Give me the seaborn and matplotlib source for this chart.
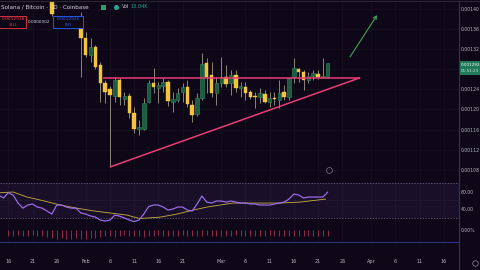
import matplotlib
matplotlib.use("Agg")
import matplotlib.pyplot as plt
import seaborn as sns
import numpy as np
import pandas as pd
from matplotlib.patches import Rectangle
from matplotlib.lines import Line2D

# ---------------- data (day index: 0 = Jan 1) ----------------
candle_day = [24] + list(range(30, 82))
open_ = [0.0014500,
         0.0013821, 0.0013423, 0.0013085, 0.0013244, 0.0012886, 0.0012527, 0.0012408, 0.0012269,
         0.0012587, 0.0012209, 0.0012269, 0.0011930, 0.0011612, 0.0011612, 0.0012149, 0.0012527,
         0.0012428, 0.0012468, 0.0012547, 0.0012149, 0.0012189, 0.0012348, 0.0012448, 0.0012090,
         0.0011910, 0.0012229, 0.0012925, 0.0012687, 0.0012328, 0.0012527, 0.0012647, 0.0012527,
         0.0012687, 0.0012428, 0.0012448, 0.0012348, 0.0012269, 0.0012249, 0.0012308, 0.0012149,
         0.0012229, 0.0012189, 0.0012348, 0.0012249, 0.0012647, 0.0012806, 0.0012746, 0.0012587,
         0.0012667, 0.0012707, 0.0012647, 0.0012647]
high = [0.0014600,
        0.0013940, 0.0013542, 0.0013423, 0.0013284, 0.0012945, 0.0012587, 0.0012468, 0.0012647,
        0.0012627, 0.0012348, 0.0012328, 0.0012050, 0.0011791, 0.0012229, 0.0012587, 0.0012826,
        0.0012547, 0.0012627, 0.0012587, 0.0012348, 0.0012428, 0.0012527, 0.0012587, 0.0012189,
        0.0012328, 0.0013124, 0.0013025, 0.0012945, 0.0012647, 0.0013045, 0.0012886, 0.0012786,
        0.0012786, 0.0012547, 0.0012547, 0.0012388, 0.0012348, 0.0012428, 0.0012388, 0.0012348,
        0.0012348, 0.0012587, 0.0012488, 0.0012647, 0.0013025, 0.0012826, 0.0012786, 0.0012746,
        0.0012786, 0.0012786, 0.0013025, 0.0012925]
low = [0.0013861,
       0.0012647, 0.0013045, 0.0012945, 0.0012806, 0.0012149, 0.0012129, 0.0010856, 0.0012149,
       0.0012090, 0.0012090, 0.0011831, 0.0011532, 0.0011493, 0.0011592, 0.0012129, 0.0012328,
       0.0012129, 0.0012348, 0.0012070, 0.0011950, 0.0012149, 0.0012149, 0.0012050, 0.0011751,
       0.0011871, 0.0012189, 0.0012328, 0.0012249, 0.0012090, 0.0012448, 0.0012448, 0.0012289,
       0.0012348, 0.0012249, 0.0012189, 0.0012209, 0.0012030, 0.0012129, 0.0012129, 0.0012050,
       0.0012090, 0.0012030, 0.0012189, 0.0012189, 0.0012527, 0.0012547, 0.0012388, 0.0012527,
       0.0012587, 0.0012607, 0.0012627, 0.0012627]
close = [0.0013900,
         0.0013423, 0.0013085, 0.0013244, 0.0012846, 0.0012527, 0.0012348, 0.0012289, 0.0012587,
         0.0012249, 0.0012269, 0.0011930, 0.0011612, 0.0011652, 0.0012129, 0.0012527, 0.0012448,
         0.0012488, 0.0012547, 0.0012169, 0.0012209, 0.0012328, 0.0012448, 0.0012109, 0.0011890,
         0.0012229, 0.0012905, 0.0012647, 0.0012328, 0.0012527, 0.0012647, 0.0012507, 0.0012687,
         0.0012428, 0.0012468, 0.0012328, 0.0012249, 0.0012253, 0.0012328, 0.0012149, 0.0012229,
         0.0012209, 0.0012328, 0.0012249, 0.0012627, 0.0012826, 0.0012746, 0.0012587, 0.0012667,
         0.0012726, 0.0012647, 0.0012657, 0.0012918]

rsi_start_day = 13
rsi = [56.0, 52.7, 58.8, 56.0, 47.0, 41.0, 44.6, 45.8, 42.3, 41.0,
       37.7, 34.2, 44.6, 44.6, 42.3, 41.0, 41.0, 35.4, 34.2, 32.0,
       30.7, 27.3, 26.1, 27.3, 33.0, 31.8, 29.6, 27.3, 25.5, 27.3,
       34.2, 42.9, 44.6, 44.6, 42.3, 38.8, 40.0, 42.3, 42.3, 38.8,
       37.7, 45.8, 55.0, 48.0, 46.9, 49.2, 49.2, 48.0, 49.2, 48.0,
       46.9, 46.9, 45.8, 45.8, 44.6, 44.6, 44.6, 45.8, 46.9, 48.0,
       51.5, 57.3, 56.1, 52.7, 53.8, 53.8, 53.8, 53.8, 59.6]
rsi_ma_day = [13.3, 16.0, 18.9, 22.2, 25.7, 29.2, 32.5, 36.0, 39.5, 42.2, 43.7,
              46.4, 49.9, 53.2, 56.1, 58.8, 61.4, 67.0, 71.2, 75.3, 80.6]
rsi_ma = [58.8, 59.6, 53.8, 49.6, 44.6, 41.0, 37.9, 35.4, 33.0, 29.0, 29.6,
          30.7, 34.2, 38.8, 42.3, 44.6, 46.9, 46.9, 46.9, 48.0, 51.5]

osc_start_day = 15
osc = [-0.006, -0.006, -0.005, -0.006, -0.006, -0.005, -0.006, -0.006, -0.007,
       -0.008, -0.009, -0.008, -0.009, -0.009, -0.008, -0.009, -0.009, -0.008, -0.008, -0.007,
       -0.006, -0.006, -0.007, -0.006, -0.005, -0.006, -0.006, -0.006, -0.007, -0.006,
       -0.006, -0.005, -0.006, -0.006, -0.006, -0.006, -0.005, -0.006, -0.006, -0.006,
       -0.006, -0.005, -0.006, -0.006, -0.006, -0.006, -0.006, -0.005, -0.006, -0.006,
       -0.006, -0.006, -0.006, -0.006, -0.005, -0.006, -0.006, -0.006, -0.006, -0.006,
       -0.006, -0.006, -0.006, -0.006, -0.006, -0.006, -0.006]

tick_days = [15, 20, 25, 31, 36, 41, 46, 51, 59, 64, 69, 74, 79, 84, 90, 95, 100, 105]
tick_labels = ["16", "21", "26", "Feb", "6", "11", "16", "21", "Mar",
               "6", "11", "16", "21", "26", "Apr", "6", "11", "16"]
price_ticks = [0.00140, 0.00136, 0.00132, 0.00128, 0.00124, 0.00120, 0.00116, 0.00112, 0.00108]
rsi_ticks = [60, 40]

resist_days = [34.6, 87.7]
resist_level = 0.0012633
support_days = [36.0, 87.7]
support_prices = [0.0010856, 0.0012633]
arrow_days = [85.6, 91.2]
arrow_prices = [0.0013045, 0.0013881]

title = "Solana / Bitcoin · 1D · Coinbase"
vol_text = "13.04K"
sell_price = "0.0012918"
buy_price = "0.0012920"
spread = "0.0000002"
countdown = "01:51:23"

# ---------------- style ----------------
BG = "#0e0717"
SEP = "#2b3180"
TXT = "#b2b5be"
GRID = "#19121f"
PINK = "#ec3b77"
YEL = "#f2c440"
GRN_F = "#1d5c40"
GRN_E = "#2e8d5e"
WICK = "#a09a88"

sns.set_theme(style="dark")
plt.rcParams["font.family"] = ["DejaVu Sans"]

W, H = 480, 270
def fx(p):
    return p / W
def fy(p):
    return 1 - p / H

fig = plt.figure(figsize=(4.8, 2.7), dpi=100)
fig.patch.set_facecolor(BG)
XL = (13.285, 108.12)
AXR = 459
ax = fig.add_axes([0, fy(175), fx(AXR), (175 - 2) / H])
ax_r = fig.add_axes([0, fy(222), fx(AXR), 47 / H])
ax_o = fig.add_axes([0, fy(242), fx(AXR), 20 / H])

for a in (ax, ax_r, ax_o):
    a.set_facecolor(BG)
    a.set_xlim(*XL)
    for s in a.spines.values():
        s.set_visible(False)
    for side in ("bottom", "right"):
        a.spines[side].set_visible(True)
        a.spines[side].set_color(SEP)
        a.spines[side].set_linewidth(0.8)
    a.yaxis.tick_right()
    a.tick_params(axis="y", length=0, labelsize=3.3, labelcolor=TXT, pad=1.2)
    a.tick_params(axis="x", length=0)
    a.grid(False)
    a.set_xticks(tick_days)
    for d in tick_days:
        a.axvline(d, color=GRID, lw=0.5, zorder=0)

# ---------------- main price pane ----------------
ax.set_ylim(0.00106965, 0.00141392)
ax.set_yticks(price_ticks)
ax.set_yticklabels([f"{v:.5f}" for v in price_ticks])
ax.tick_params(axis="x", labelbottom=False)
for v in price_ticks:
    ax.axhline(v, color=GRID, lw=0.5, zorder=0)

df = pd.DataFrame(dict(day=candle_day, open=open_, high=high, low=low, close=close))
up = df["close"] >= df["open"]
ax.vlines(df["day"], df["low"], df["high"], color=WICK, lw=0.6, zorder=2)
ax.bar(df["day"][up], (df["close"] - df["open"])[up], bottom=df["open"][up], width=0.72,
       color=GRN_F, edgecolor=GRN_E, linewidth=0.4, zorder=3)
ax.bar(df["day"][~up], (df["close"] - df["open"])[~up], bottom=df["open"][~up], width=0.72,
       color=YEL, edgecolor=YEL, linewidth=0.3, zorder=3)

ax.plot(resist_days, [resist_level, resist_level], color=PINK, lw=1.1, zorder=4,
        solid_capstyle="butt")
ax.plot(support_days, support_prices, color=PINK, lw=1.1, zorder=4, solid_capstyle="butt")
ax.annotate("", xy=(arrow_days[1], arrow_prices[1]), xytext=(arrow_days[0], arrow_prices[0]),
            arrowprops=dict(arrowstyle="->", color="#43a35a", lw=0.8, mutation_scale=6,
                            shrinkA=0, shrinkB=0), zorder=5)

# ---------------- RSI pane ----------------
ax_r.set_ylim(25.03, 79.24)
ax_r.axhspan(30, 70, color="#7e57c2", alpha=0.1, lw=0)
ax_r.axhline(70, color="#6e6880", lw=0.5, ls=(0, (2, 2)))
ax_r.axhline(30, color="#6e6880", lw=0.5, ls=(0, (2, 2)))
ax_r.axhline(50, color="#6e6880", lw=0.4, ls=(0, (1, 2)), alpha=0.5)
rsi_days = list(range(rsi_start_day, rsi_start_day + len(rsi)))
sns.lineplot(x=rsi_ma_day, y=rsi_ma, ax=ax_r, color="#c8b040", linewidth=0.6, zorder=3)
sns.lineplot(x=rsi_days, y=rsi, ax=ax_r, color="#9d6ff0", linewidth=0.85, zorder=4)
ax_r.set_xlim(*XL)
ax_r.set_yticks(rsi_ticks)
ax_r.set_yticklabels([f"{v:.2f}" for v in rsi_ticks])
ax_r.tick_params(axis="x", labelbottom=False)
ax_r.set_xlabel("")
ax_r.set_ylabel("")

# ---------------- oscillator pane ----------------
osc_days = list(range(osc_start_day, osc_start_day + len(osc)))
ax_o.set_ylim(-0.0125, 0.0075)
ax_o.vlines(osc_days, 0, osc, color="#a8324f", lw=0.6)
ax_o.set_yticks([0])
ax_o.set_yticklabels(["0.00%"])
ax_o.set_xticklabels(tick_labels)
ax_o.tick_params(axis="x", labelsize=3.5, labelcolor=TXT, pad=12.2)

# ---------------- frame lines ----------------
fig.add_artist(Line2D([fx(AXR), fx(AXR)], [fy(242), 0], color=SEP, lw=0.8))
fig.add_artist(Line2D([0, 1], [fy(1), fy(1)], color="#2a2733", lw=0.8))

# ---------------- current price label ----------------
fig.add_artist(Rectangle((fx(459.5), fy(75)), fx(22), 14 / H, transform=fig.transFigure,
                         facecolor="#1e7a58", edgecolor="none", zorder=5))
fig.text(fx(460.5), fy(64.5), f"{close[-1]:.6f}", color="white", fontsize=3.0,
         va="center", ha="left", zorder=6)
fig.text(fx(461), fy(70.8), countdown, color="#cfe9dc", fontsize=3.0,
         va="center", ha="left", zorder=6)

# ---------------- header ----------------
fig.text(0.002, fy(7), title, color="#d1d4dc", fontsize=4.1, va="center", ha="left", zorder=6)
fig.add_artist(Rectangle((fx(101), fy(9.5)), fx(5), 5 / H, transform=fig.transFigure,
                         facecolor="#2e9e6a", edgecolor="none", zorder=6))
fig.add_artist(Line2D([fx(116)], [fy(7)], marker="o", markersize=2.6, color="#26a69a",
                      lw=0, zorder=6))
fig.text(fx(122), fy(7), "Vol", color="#d1d4dc", fontsize=3.6, va="center", ha="left", zorder=6)
fig.text(fx(130.5), fy(7), vol_text, color="#26a69a", fontsize=3.6, va="center", ha="left",
         zorder=6)

fig.add_artist(Rectangle((fx(-1), fy(28)), fx(27), 12 / H, transform=fig.transFigure,
                         facecolor=BG, edgecolor="#f23645", lw=0.6, zorder=6))
fig.text(fx(13), fy(19.5), sell_price, color="#f23645", fontsize=3.2, va="center", ha="center",
         zorder=7)
fig.text(fx(13), fy(25), "SELL", color="#f23645", fontsize=2.6, va="center", ha="center", zorder=7)
fig.text(fx(39.5), fy(22), spread, color="#d1d4dc", fontsize=3.1, va="center", ha="center",
         zorder=7)
fig.add_artist(Rectangle((fx(53), fy(28)), fx(30), 12 / H, transform=fig.transFigure,
                         facecolor=BG, edgecolor="#2962ff", lw=0.6, zorder=6))
fig.text(fx(68), fy(19.5), buy_price, color="#2962ff", fontsize=3.2, va="center", ha="center",
         zorder=7)
fig.text(fx(68), fy(25), "BUY", color="#2962ff", fontsize=2.6, va="center", ha="center",
         zorder=7)

# small UI icons
fig.add_artist(Line2D([fx(329)], [fy(170)], marker="o", markersize=4.2, mfc="none",
                      mec="#787b86", mew=0.5, lw=0, zorder=6))
fig.add_artist(Line2D([fx(475)], [fy(263)], marker="o", markersize=4, mfc="none",
                      mec="#787b86", mew=0.6, lw=0, zorder=6))

fig.savefig("out.png", dpi=100, facecolor=BG)
